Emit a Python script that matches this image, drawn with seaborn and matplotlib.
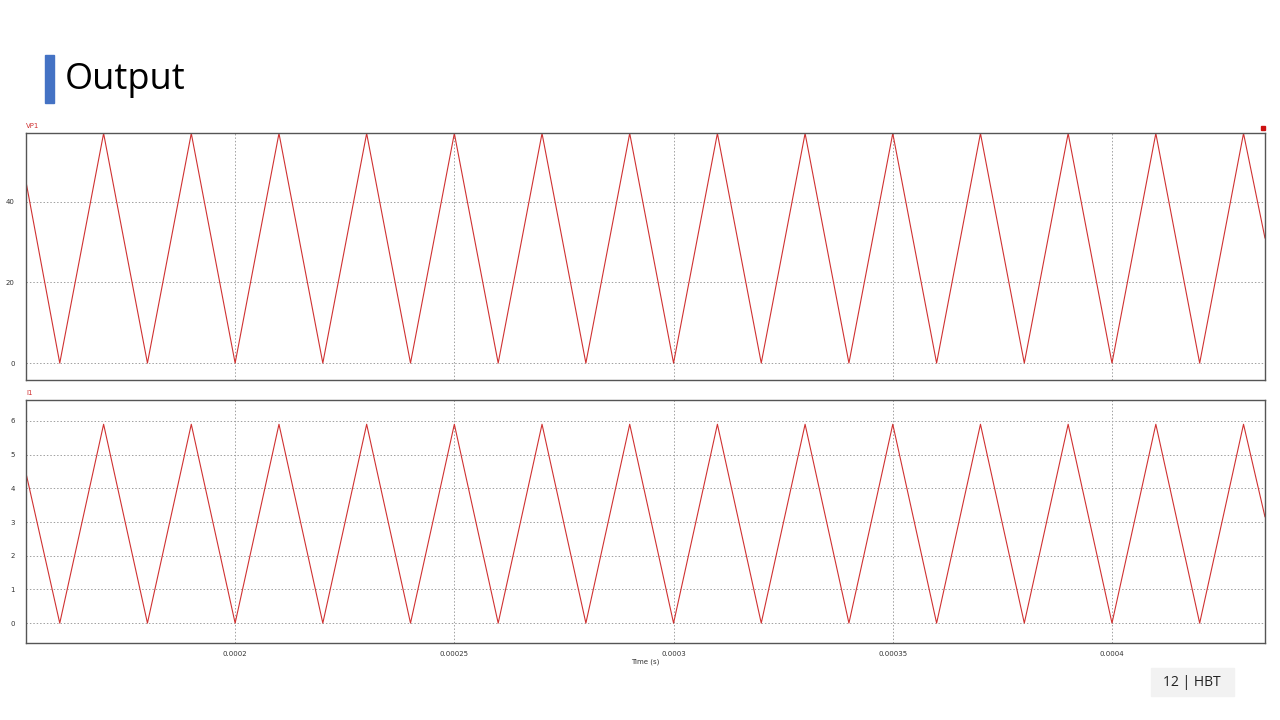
import matplotlib
matplotlib.use("Agg")
import matplotlib.pyplot as plt
import matplotlib.patches as mpatches
import seaborn as sns
import pandas as pd

# ---- data (vertices) ----
time_s = [0.0001523, 0.00016, 0.00017, 0.00018, 0.00019, 0.00020, 0.00021,
          0.00022, 0.00023, 0.00024, 0.00025, 0.00026, 0.00027, 0.00028,
          0.00029, 0.00030, 0.00031, 0.00032, 0.00033, 0.00034, 0.00035,
          0.00036, 0.00037, 0.00038, 0.00039, 0.00040, 0.00041, 0.00042,
          0.00043, 0.0004349]
vp1 = [45.0, 0, 57, 0, 57, 0, 57, 0, 57, 0, 57, 0, 57, 0, 57, 0, 57, 0, 57,
       0, 57, 0, 57, 0, 57, 0, 57, 0, 57, 31.0]
i1 = [4.45, 0, 5.9, 0, 5.9, 0, 5.9, 0, 5.9, 0, 5.9, 0, 5.9, 0, 5.9, 0, 5.9,
      0, 5.9, 0, 5.9, 0, 5.9, 0, 5.9, 0, 5.9, 0, 5.9, 3.15]

x_ticks = [0.0002, 0.00025, 0.0003, 0.00035, 0.0004]
x_tick_labels = ["0.0002", "0.00025", "0.0003", "0.00035", "0.0004"]
vp1_ticks = [0, 20, 40]
i1_ticks = [0, 1, 2, 3, 4, 5, 6]

df = pd.DataFrame({"t": time_s, "VP1": vp1, "I1": i1})

sns.set_theme(style="white")
plt.rcParams["font.family"] = ["DejaVu Sans"]

W, H = 1280, 720
fig = plt.figure(figsize=(W / 100, H / 100), dpi=100)
fig.patch.set_facecolor("white")

def fx(px):
    return px / W

def fy(py):
    return 1 - py / H

line_color = "#d03232"
xlim = (0.0001523, 0.0004349)

ax1 = fig.add_axes([fx(26), fy(380), fx(1265) - fx(26), fy(133) - fy(380)])
ax2 = fig.add_axes([fx(26), fy(643), fx(1265) - fx(26), fy(400) - fy(643)])

sns.lineplot(data=df, x="t", y="VP1", ax=ax1, color=line_color, linewidth=0.8)
sns.lineplot(data=df, x="t", y="I1", ax=ax2, color=line_color, linewidth=0.8)

ax1.set_ylim(-4.2, 57.1)
ax2.set_ylim(-0.59, 6.62)
ax1.set_yticks(vp1_ticks)
ax2.set_yticks(i1_ticks)

for ax in (ax1, ax2):
    ax.set_xlim(*xlim)
    ax.set_xticks(x_ticks)
    ax.grid(True, color="#a0a0a0", linestyle=(0, (1.5, 2)), linewidth=0.7)
    ax.set_xlabel("")
    ax.set_ylabel("")
    ax.tick_params(axis="both", length=0, labelsize=5, colors="#333333", pad=8)
    for s in ax.spines.values():
        s.set_color("#555555")
        s.set_linewidth(1.0)

ax1.set_xticklabels([])
ax2.set_xticklabels(x_tick_labels)
ax2.tick_params(axis="x", pad=6)
ax2.set_xlabel("Time (s)", fontsize=5, color="#333333", labelpad=1)

fig.text(fx(26), fy(126), "VP1", fontsize=5, color=line_color, ha="left", va="center")
fig.text(fx(26), fy(393), "I1", fontsize=5, color=line_color, ha="left", va="center")
fig.patches.append(mpatches.Rectangle((fx(1261), fy(130)), fx(4), fy(126) - fy(130),
                                      transform=fig.transFigure, color="#cc1111"))

# title with blue bar
fig.patches.append(mpatches.Rectangle((fx(45), fy(103)), fx(9), fy(55) - fy(103),
                                      transform=fig.transFigure, color="#4472C4"))
fig.text(fx(65), fy(80), "Output", fontsize=26, color="black", ha="left", va="center",
         family=["Open Sans", "DejaVu Sans"])

# footer
fig.patches.append(mpatches.Rectangle((fx(1151), fy(696)), fx(83), fy(668) - fy(696),
                                      transform=fig.transFigure, color="#f2f2f2"))
fig.text(fx(1192), fy(682), "12 | HBT", fontsize=10, color="#222222", ha="center",
         va="center", family=["Open Sans", "DejaVu Sans"])

fig.savefig("out.png", dpi=100, facecolor="white")
